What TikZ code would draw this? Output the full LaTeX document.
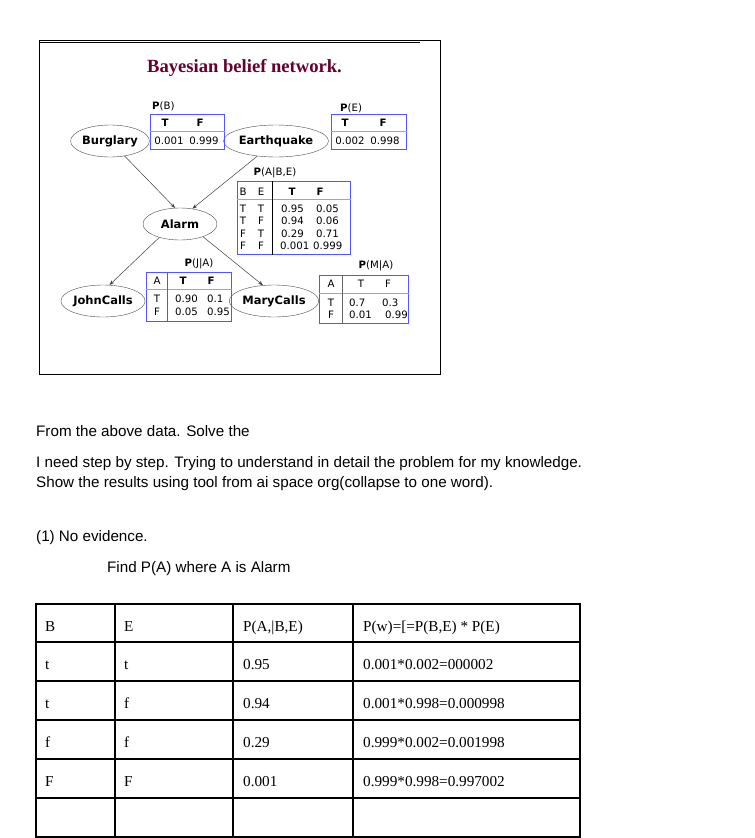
\documentclass[tikz,border=0pt]{standalone}
\usepackage{fontspec}
\setmainfont{Liberation Serif}
\newfontfamily\vfont{DejaVu Sans}
\newfontfamily\afont{Liberation Sans}
\usetikzlibrary{arrows.meta,shapes.geometric}
\definecolor{titlered}{RGB}{102,0,51}
\definecolor{cptblue}{RGB}{85,85,255}
\begin{document}
\begin{tikzpicture}[x=1pt,y=-1pt,
  frameline/.style={line width=1pt,black},
  bnode/.style={ellipse,draw=black!70,fill=white,minimum width=74pt,minimum height=32pt,inner sep=0pt,font=\vfont\bfseries\fontsize{11.5}{13}\selectfont},
  cptbox/.style={draw=cptblue,line width=0.8pt,inner sep=0pt,anchor=north west},
  sepline/.style={black!35,line width=1pt},
  vline/.style={black!60,line width=1pt},
  tx/.style={font=\vfont\fontsize{10.2}{12}\selectfont,inner sep=0pt},
  txw/.style={tx,anchor=west},
  hd/.style={font=\vfont\bfseries\fontsize{10.2}{12}\selectfont,inner sep=0pt},
  lbl/.style={font=\vfont\fontsize{10.2}{12}\selectfont,inner sep=0pt},
  arr/.style={-{Stealth[length=5pt,width=3.5pt]},draw=black!75,line width=0.5pt},
  para/.style={font=\afont\fontsize{15.2}{18}\selectfont,inner sep=0pt,anchor=base west},
  grid/.style={black,line width=2pt},
  cell/.style={font=\fontsize{15.2}{18}\selectfont,inner sep=0pt,anchor=base west}
]
\useasboundingbox (0,0) rectangle (755,838);
\fill[white] (0,0) rectangle (755,838);

% frame
\draw[frameline] (39,40) -- (440.5,40) -- (440.5,374) -- (39,374) -- cycle;
\draw[frameline] (39,42.5) -- (420,42.5);

% title
\node[font=\bfseries\fontsize{18.6}{22}\selectfont,text=titlered,inner sep=0pt] (title) at (244.5,68) {Bayesian belief network.};

% nodes
\node[bnode] (burg) at (110,141) {Burglary};
\node[bnode,minimum width=93pt] (eq) at (276,141) {Earthquake};
\node[bnode] (alarm) at (180,224) {Alarm};
\node[bnode] (john) at (103,301) {JohnCalls};
\node[bnode] (mary) at (274,301) {MaryCalls};

% arrows
\draw[arr] (burg) -- (alarm.107);
\draw[arr] (eq) -- (alarm.51);
\draw[arr] (alarm.213) -- (john.68);
\draw[arr] (alarm.331) -- (mary.125);

% P(B)
\node[lbl,anchor=west] (pbl) at (152,106) {\textbf{P}(B)};
\node[cptbox,minimum width=74pt,minimum height=35pt] (pb) at (150,114) {};
\draw[sepline] (pb.west |- 0,131.5) -- (pb.east |- 0,131.5);
\node[hd] (pbt) at (165,123) {T};
\node[hd] (pbf) at (200,123) {F};
\node[tx] (pb1) at (169,141) {0.001};
\node[tx] (pb2) at (204,141) {0.999};

% P(E)
\node[lbl,anchor=west] (pel) at (340,108) {\textbf{P}(E)};
\node[cptbox,minimum width=75pt,minimum height=35pt] (pe) at (331,114) {};
\draw[sepline] (pe.west |- 0,131.5) -- (pe.east |- 0,131.5);
\node[hd] (pet) at (345,123) {T};
\node[hd] (pef) at (383,123) {F};
\node[tx] (pe1) at (350,141) {0.002};
\node[tx] (pe2) at (385,141) {0.998};

% P(A|B,E)
\node[lbl] (pal) at (275,173) {\textbf{P}(A|B,E)};
\node[cptbox,minimum width=113pt,minimum height=73pt] (pa) at (237,181) {};
\draw[sepline] (pa.west |- 0,199) -- (pa.east |- 0,199);
\draw[black,line width=1pt] (272,0 |- pa.north) -- (272,0 |- pa.south);
\node[tx] (pah1) at (243,192) {B};
\node[tx] (pah2) at (261,192) {E};
\node[hd] (pah3) at (292,192) {T};
\node[hd] (pah4) at (320,192) {F};
\node[tx] (pa11) at (243,209) {T};
\node[tx] (pa12) at (261,209) {T};
\node[txw] (pa13) at (281,209) {0.95};
\node[txw] (pa14) at (316,209) {0.05};
\node[tx] (pa21) at (243,221) {T};
\node[tx] (pa22) at (261,221) {F};
\node[txw] (pa23) at (281,221) {0.94};
\node[txw] (pa24) at (316,221) {0.06};
\node[tx] (pa31) at (243,233.5) {F};
\node[tx] (pa32) at (261,233.5) {T};
\node[txw] (pa33) at (281,233.5) {0.29};
\node[txw] (pa34) at (316,233.5) {0.71};
\node[tx] (pa41) at (243,246) {F};
\node[tx] (pa42) at (261,246) {F};
\node[txw] (pa43) at (280,246) {0.001};
\node[txw] (pa44) at (313,246) {0.999};

% P(J|A)
\node[lbl] (pjl) at (199,264) {\textbf{P}(J|A)};
\node[cptbox,minimum width=85pt,minimum height=49pt] (pj) at (146,272) {};
\draw[sepline] (pj.west |- 0,289) -- (pj.east |- 0,289);
\draw[vline] (167,0 |- pj.north) -- (167,0 |- pj.south);
\node[tx] (pjh1) at (157,281) {A};
\node[hd] (pjh2) at (183,281) {T};
\node[hd] (pjh3) at (211,281) {F};
\node[tx] (pj11) at (157,299) {T};
\node[txw] (pj12) at (175,299) {0.90};
\node[txw] (pj13) at (207,299) {0.1};
\node[tx] (pj21) at (157,312) {F};
\node[txw] (pj22) at (175,312) {0.05};
\node[txw] (pj23) at (207,312) {0.95};

% P(M|A)
\node[lbl] (pml) at (376,266) {\textbf{P}(M|A)};
\node[cptbox,minimum width=89pt,minimum height=48pt] (pm) at (319,275) {};
\draw[sepline] (pm.west |- 0,293) -- (pm.east |- 0,293);
\draw[vline] (342,0 |- pm.north) -- (342,0 |- pm.south);
\node[tx] (pmh1) at (331,284) {A};
\node[tx] (pmh2) at (361,284) {T};
\node[tx] (pmh3) at (388,284) {F};
\node[tx] (pm11) at (331,303) {T};
\node[txw] (pm12) at (349,303) {0.7};
\node[txw] (pm13) at (382,303) {0.3};
\node[tx] (pm21) at (331,315) {F};
\node[txw] (pm22) at (349,315) {0.01};
\node[txw] (pm23) at (385,315) {0.99};

% text
\node[para] (t1) at (36,436) {From the above data. Solve the};
\node[para] (t2) at (36,467) {I need step by step. Trying to understand in detail the problem for my knowledge.};
\node[para] (t3) at (36,487) {Show the results using tool from ai space org(collapse to one word).};
\node[para] (t4) at (36,541) {(1) No evidence.};
\node[para] (t5) at (107,572) {Find P(A) where A is Alarm};

% table
\foreach \yy in {604,642,681,720,759,798,837}
  \draw[grid] (35,\yy) -- (581,\yy);
\foreach \xx in {36,115,233,353,580}
  \draw[grid] (\xx,603) -- (\xx,838);

\node[cell] (c11) at (45,631) {B};
\node[cell] (c12) at (124,631) {E};
\node[cell] (c13) at (243,631) {P(A,|B,E)};
\node[cell] (c14) at (363,631) {P(w)=[=P(B,E) * P(E)};
\node[cell] (c21) at (45,669) {t};
\node[cell] (c22) at (124,669) {t};
\node[cell] (c23) at (243,669) {0.95};
\node[cell] (c24) at (363,669) {0.001*0.002=000002};
\node[cell] (c31) at (45,708) {t};
\node[cell] (c32) at (124,708) {f};
\node[cell] (c33) at (243,708) {0.94};
\node[cell] (c34) at (363,708) {0.001*0.998=0.000998};
\node[cell] (c41) at (45,747) {f};
\node[cell] (c42) at (124,747) {f};
\node[cell] (c43) at (243,747) {0.29};
\node[cell] (c44) at (363,747) {0.999*0.002=0.001998};
\node[cell] (c51) at (45,786) {F};
\node[cell] (c52) at (124,786) {F};
\node[cell] (c53) at (243,786) {0.001};
\node[cell] (c54) at (363,786) {0.999*0.998=0.997002};
\end{tikzpicture}
\end{document}
